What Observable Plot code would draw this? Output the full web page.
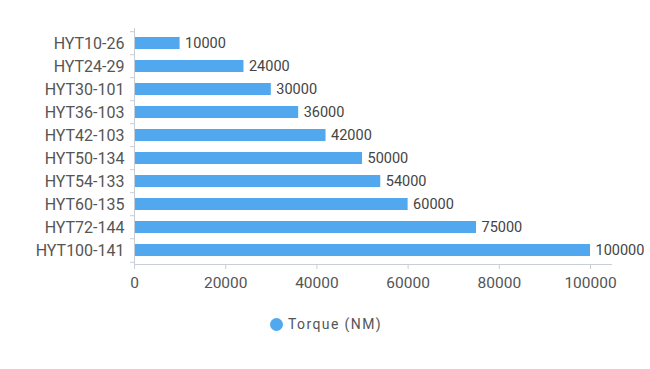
<!DOCTYPE html>
<html>
<head>
<meta charset="utf-8">
<script src="https://cdn.jsdelivr.net/npm/d3@7"></script>
<script src="https://cdn.jsdelivr.net/npm/@observablehq/plot@0.6"></script>
<style>
  html, body { margin: 0; padding: 0; background: #fff; }
  body { width: 650px; height: 369px; overflow: hidden; font-family: Roboto, "Noto Sans", sans-serif; }
  #legend { display: flex; align-items: center; justify-content: center; margin-top: 16px; padding-left: 2px; font-size: 14px; color: #555; letter-spacing: 1.4px; }
  #legend .dot { width: 13px; height: 13px; border-radius: 50%; background: #52a8ee; margin-right: 5px; }
</style>
</head>
<body>
<div id="chart"></div>
<div id="legend"><span class="dot"></span><span>Torque (NM)</span></div>
<script>
const models = ["HYT10-26", "HYT24-29", "HYT30-101", "HYT36-103", "HYT42-103", "HYT50-134", "HYT54-133", "HYT60-135", "HYT72-144", "HYT100-141"];
const torque = [10000, 24000, 30000, 36000, 42000, 50000, 54000, 60000, 75000, 100000];
const xTicks = [0, 20000, 40000, 60000, 80000, 100000];
const seriesName = "Torque (NM)";

const data = models.map((m, i) => ({model: m, value: torque[i]}));
const axisColor = "#c9ced6";
const barColor = "#52a8ee";
const H = 300, mTop = 28, mBottom = 36;
const bw = (H - mTop - mBottom) / models.length;

const chart = Plot.plot({
  width: 650,
  height: H,
  marginTop: mTop,
  marginBottom: mBottom,
  marginLeft: 134,
  marginRight: 39,
  style: {fontFamily: "Roboto, sans-serif", fontSize: "15px", background: "#fff"},
  x: {domain: [0, 104600], ticks: xTicks, label: null},
  y: {domain: models, paddingInner: 0.5, paddingOuter: 0.25, label: null},
  marks: [
    Plot.barX(data, {x: "value", y: "model", fill: barColor}),
    Plot.text(data, {x: "value", y: "model", text: d => String(d.value), textAnchor: "start", dx: 5, fill: "#444", fontSize: 14.5}),
    Plot.frame({anchor: "bottom", stroke: axisColor}),
    Plot.frame({anchor: "left", stroke: axisColor}),
    Plot.axisX({ticks: xTicks, tickSize: 5, tickPadding: 7, stroke: axisColor, fill: "#555", tickFormat: d => String(d), fontSize: 15.5, label: null}),
    Plot.axisY({tickSize: 0, tickPadding: 10, fill: "#555", fontSize: 16, label: null}),
    Plot.axisY({ticks: models, tickSize: 4, dy: -bw / 2, stroke: axisColor, tickFormat: () => "", label: null}),
    Plot.axisY({ticks: [models[models.length - 1]], tickSize: 4, dy: bw / 2, stroke: axisColor, tickFormat: () => "", label: null})
  ]
});
document.getElementById("chart").append(chart);
</script>
</body>
</html>
